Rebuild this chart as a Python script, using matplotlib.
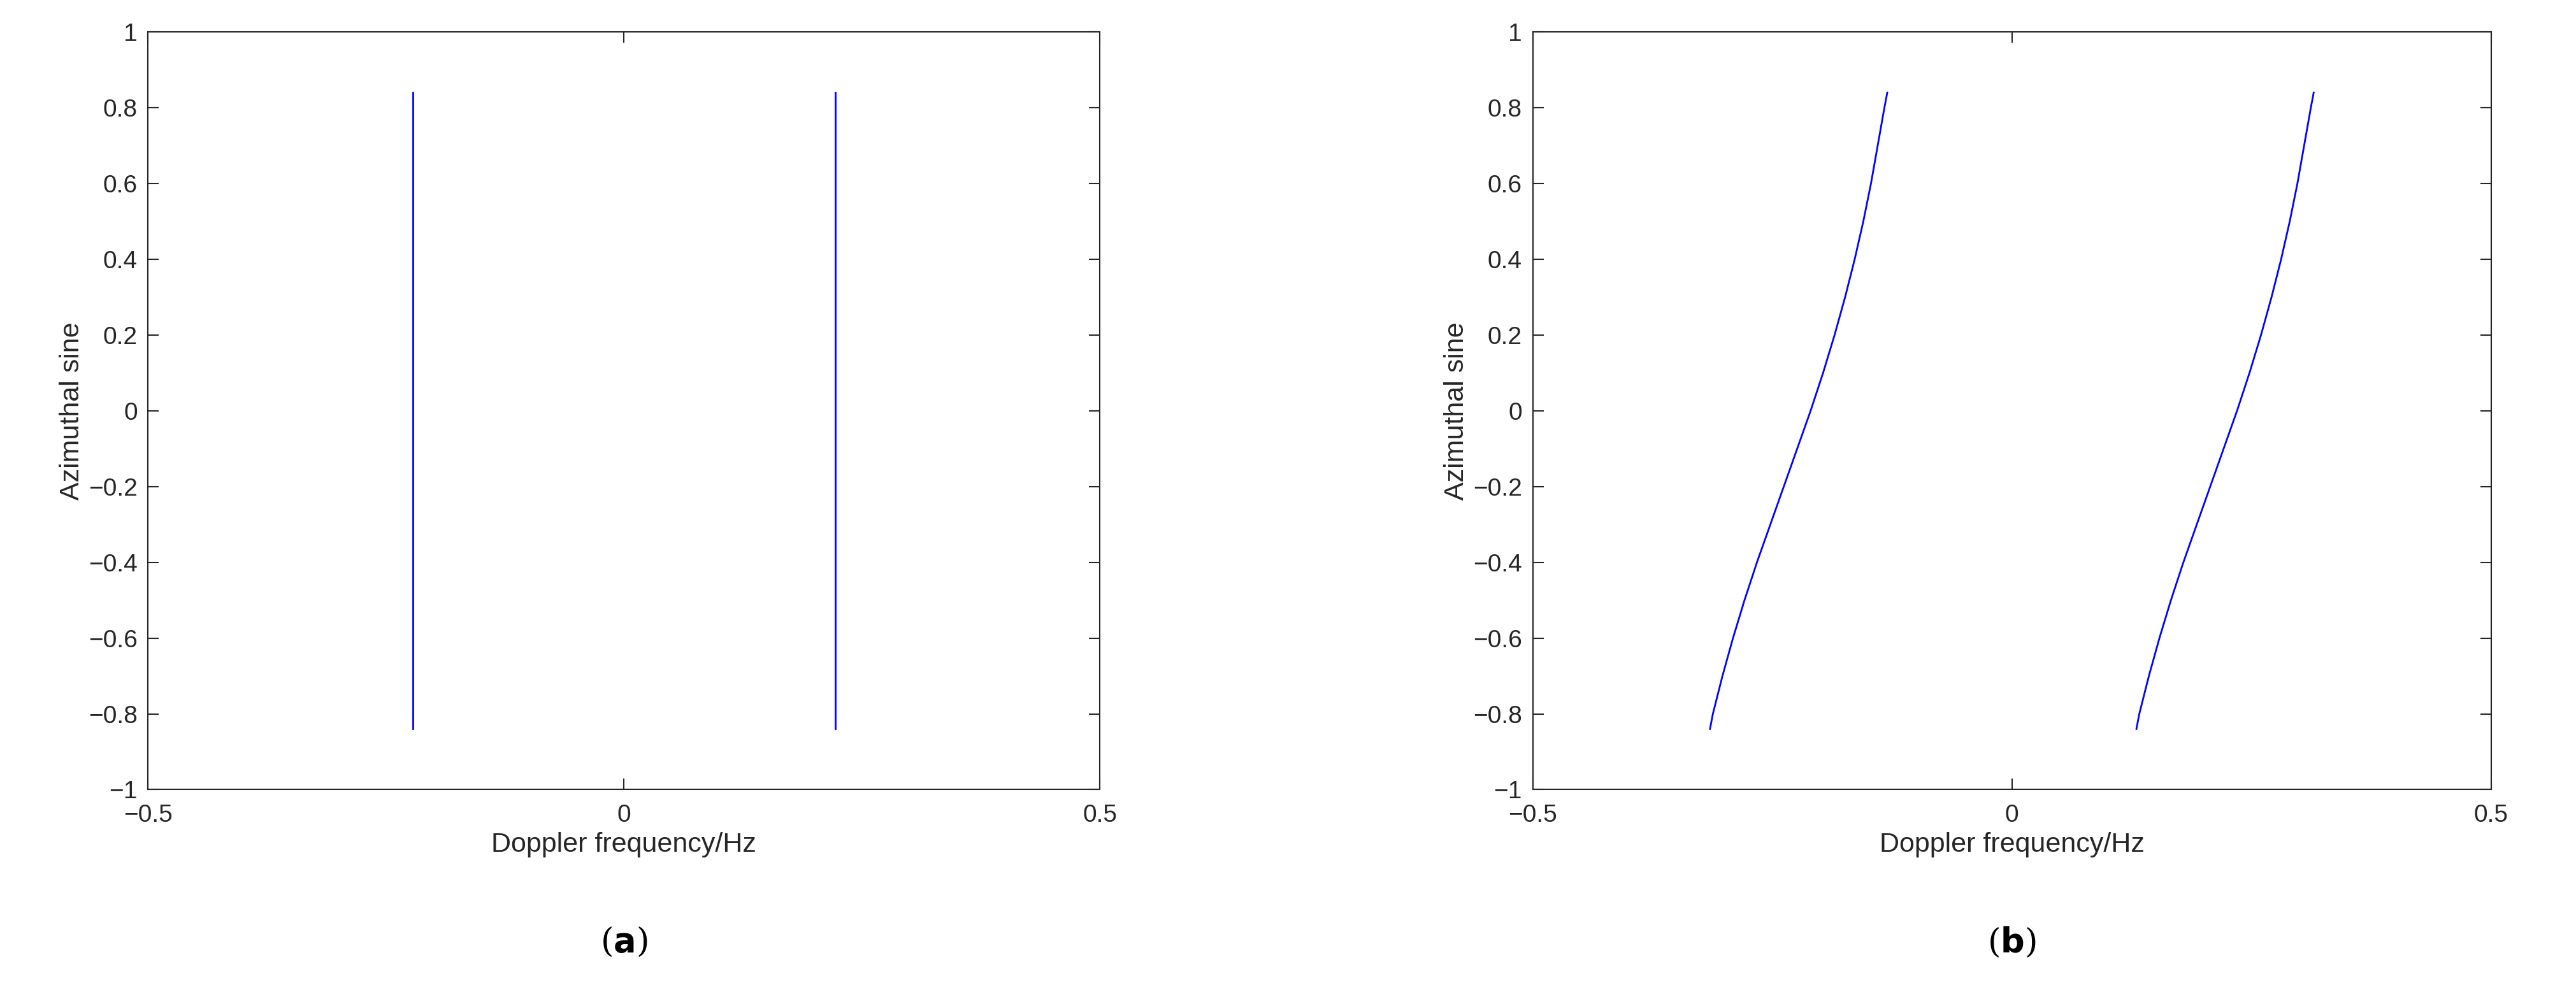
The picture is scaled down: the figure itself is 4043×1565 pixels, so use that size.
import matplotlib
matplotlib.use('Agg')
import matplotlib.pyplot as plt

# (a) vertical lines
sine_a = [-0.84, 0.84]
freq_a_left = [-0.222, -0.222]
freq_a_right = [0.222, 0.222]

# (b) curves
sine_b = [-0.84, -0.8, -0.7, -0.6, -0.5, -0.4, -0.3, -0.2, -0.1, 0.0,
          0.1, 0.2, 0.3, 0.4, 0.5, 0.6, 0.7, 0.8, 0.84]
freq_b_left = [-0.315, -0.312, -0.302, -0.291, -0.279, -0.266, -0.252, -0.238, -0.224, -0.210,
               -0.197, -0.185, -0.174, -0.164, -0.155, -0.147, -0.140, -0.133, -0.130]
freq_b_right = [0.130, 0.133, 0.143, 0.154, 0.166, 0.179, 0.193, 0.207, 0.221, 0.235,
                0.248, 0.260, 0.271, 0.281, 0.290, 0.298, 0.305, 0.312, 0.315]

xticks = [-0.5, 0, 0.5]
xticklabels = ['\u22120.5', '0', '0.5']
yticks = [-1, -0.8, -0.6, -0.4, -0.2, 0, 0.2, 0.4, 0.6, 0.8, 1]
yticklabels = [('\u2212' + f'{abs(v):g}') if v < 0 else f'{v:g}' for v in yticks]

plt.rcParams['font.family'] = ['Arial', 'Liberation Sans', 'DejaVu Sans']

fig = plt.figure(figsize=(40.43, 15.65), dpi=100)
ax1 = fig.add_axes([0.0575, 0.208, 0.3695, 0.76])
ax2 = fig.add_axes([0.595, 0.208, 0.372, 0.76])

ax1.plot(freq_a_left, sine_a, color='#0000ff', linewidth=2)
ax1.plot(freq_a_right, sine_a, color='#0000ff', linewidth=2)
ax2.plot(freq_b_left, sine_b, color='#0000ff', linewidth=2)
ax2.plot(freq_b_right, sine_b, color='#0000ff', linewidth=2)

for ax, lab in [(ax1, 'a'), (ax2, 'b')]:
    ax.set_xlim(-0.5, 0.5)
    ax.set_ylim(-1, 1)
    ax.set_xticks(xticks)
    ax.set_xticklabels(xticklabels)
    ax.set_yticks(yticks)
    ax.set_yticklabels(yticklabels)
    ax.tick_params(direction='in', length=12, width=1.5, labelsize=28,
                   top=True, right=True, colors='#262626')
    ax.tick_params(axis='x', pad=16)
    ax.tick_params(axis='y', pad=12)
    for s in ax.spines.values():
        s.set_linewidth(1.5)
        s.set_color('#262626')
    ax.set_xlabel('Doppler frequency/Hz', fontsize=31, color='#262626', labelpad=6)
    ax.set_ylabel('Azimuthal sine', fontsize=31, color='#262626', labelpad=4)
    ax.text(0.5, -0.18, '(' + r'$\mathbf{' + lab + '}$' + ')', transform=ax.transAxes,
            ha='center', va='top', fontsize=38, family='DejaVu Serif')

fig.savefig('out.png', dpi=100)
